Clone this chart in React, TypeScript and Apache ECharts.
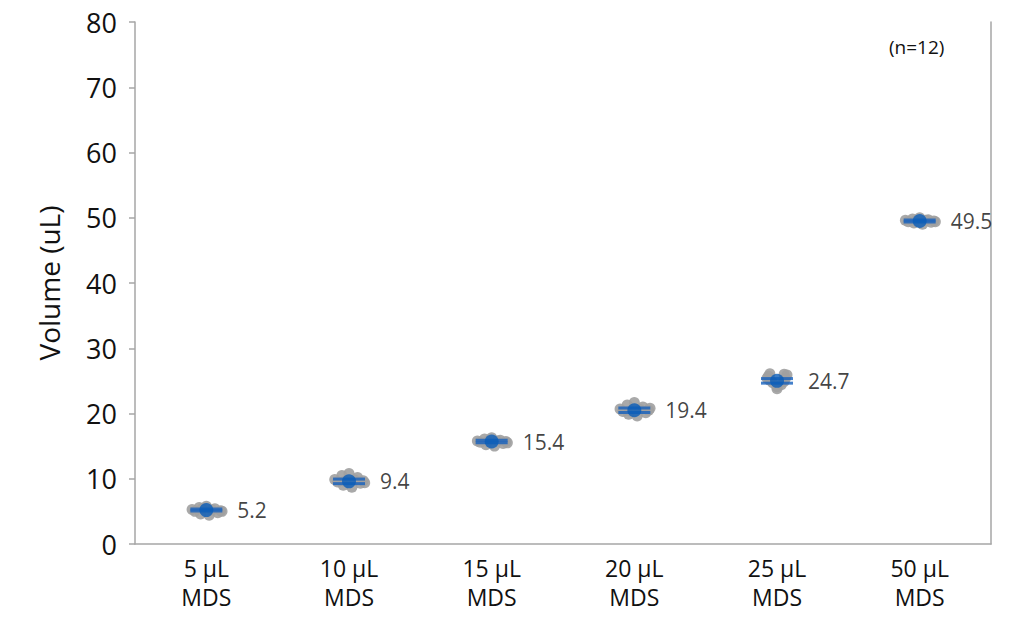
import React, { useEffect, useRef } from "react";
import * as echarts from "echarts";

const categories = ["5 µL\nMDS", "10 µL\nMDS", "15 µL\nMDS", "20 µL\nMDS", "25 µL\nMDS", "50 µL\nMDS"];
const yTicks = [0, 10, 20, 30, 40, 50, 60, 70, 80];
const means = [5.2, 9.6, 15.7, 20.5, 25.0, 49.5];
const meanLabels = ["5.2", "9.4", "15.4", "19.4", "24.7", "49.5"];
const sds = [0.15, 0.35, 0.2, 0.35, 0.35, 0.15];

// individual measurements (n=12 per group) and their horizontal jitter
const pts5 = [5.8, 5.6, 5.4, 5.3, 5.1, 5.0, 4.8, 4.6, 4.4, 5.2, 5.4, 5.0];
const pts10 = [10.8, 10.5, 10.2, 9.9, 9.7, 9.5, 9.3, 9.0, 8.7, 9.8, 9.6, 9.4];
const pts15 = [16.3, 16.1, 15.9, 15.8, 15.7, 15.6, 15.4, 15.2, 15.0, 15.8, 15.7, 15.5];
const pts20 = [21.7, 21.3, 21.0, 20.7, 20.5, 20.3, 20.1, 19.9, 19.6, 20.6, 20.4, 20.8];
const pts25 = [26.1, 26.0, 25.7, 25.4, 25.1, 24.9, 24.7, 24.4, 24.1, 23.8, 25.4, 25.9];
const pts50 = [50.0, 49.8, 49.7, 49.6, 49.5, 49.4, 49.3, 49.2, 49.0, 49.6, 49.5, 49.4];
const jitter = [0.0, -0.05, 0.06, -0.1, 0.1, -0.08, 0.08, -0.04, 0.02, 0.04, -0.03, 0.11];
const jitter25 = [-0.05, 0.05, -0.06, 0.06, -0.05, 0.05, -0.03, 0.03, 0.0, 0.0, -0.07, 0.07];
const groups = [pts5, pts10, pts15, pts20, pts25, pts50];

const FONT = "Open Sans";

export default function App() {
  const ref = useRef<HTMLDivElement>(null);
  useEffect(() => {
    if (!ref.current) return;
    const chart = echarts.init(ref.current, undefined, { renderer: "svg" });

    const pointData: number[][] = [];
    groups.forEach((g, gi) => {
      g.forEach((v, i) => {
        const j = gi === 4 ? jitter25[i] : jitter[i];
        pointData.push([gi + j, v]);
      });
    });
    const meanData = means.map((m, i) => [i, m]);
    const barData: number[][] = [];
    means.forEach((m, i) => {
      barData.push([i, m + sds[i]]);
      barData.push([i, m - sds[i]]);
    });

    chart.setOption({
      animation: false,
      backgroundColor: "#ffffff",
      grid: { left: 135, right: 33, top: 22, bottom: 79 },
      xAxis: [
        {
          type: "category",
          data: categories,
          boundaryGap: true,
          axisLine: { lineStyle: { color: "#a6a6a6", width: 1.5 } },
          axisTick: { alignWithLabel: true, length: 6, lineStyle: { color: "#a6a6a6", width: 1.5 } },
          axisLabel: { fontFamily: FONT, fontSize: 23, color: "#111", lineHeight: 29, margin: 9 },
          splitLine: { show: false },
        },
        { type: "value", min: -0.5, max: 5.5, show: false },
      ],
      yAxis: [
        {
          type: "value",
          min: 0,
          max: 80,
          interval: 10,
          name: "Volume (uL)",
          nameLocation: "middle",
          nameGap: 72,
          nameTextStyle: { fontFamily: FONT, fontSize: 28, color: "#111" },
          axisLine: { show: true, onZero: false, lineStyle: { color: "#a6a6a6", width: 1.5 } },
          axisTick: { show: true, length: 6, lineStyle: { color: "#a6a6a6", width: 1.5 } },
          axisLabel: {
            fontFamily: FONT,
            fontSize: 27,
            color: "#111",
            margin: 18,
            formatter: (v: number) => (yTicks.includes(v) ? String(v) : ""),
          },
          splitLine: { show: false },
        },
        {
          type: "value",
          min: 0,
          max: 80,
          position: "right",
          axisLine: { show: true, onZero: false, lineStyle: { color: "#a6a6a6", width: 1.5 } },
          axisTick: { show: false },
          axisLabel: { show: false },
          splitLine: { show: false },
        },
      ],
      series: [
        {
          type: "scatter",
          xAxisIndex: 1,
          data: pointData,
          symbol: "circle",
          symbolSize: 11,
          itemStyle: { color: "#a0a0a0", opacity: 0.9 },
          silent: true,
          z: 2,
        },
        {
          type: "scatter",
          xAxisIndex: 1,
          data: barData,
          symbol: "rect",
          symbolSize: [32, 3],
          itemStyle: { color: "#1560bd" },
          silent: true,
          z: 3,
        },
        {
          type: "scatter",
          xAxisIndex: 1,
          data: meanData,
          symbol: "circle",
          symbolSize: 14,
          itemStyle: { color: "#0a5cb8" },
          label: {
            show: true,
            position: "right",
            distance: 24,
            fontFamily: FONT,
            fontSize: 21,
            color: "#111",
            formatter: (p: any) => meanLabels[p.dataIndex],
          },
          silent: true,
          z: 4,
        },
      ],
      graphic: [
        {
          type: "text",
          left: 889,
          top: 37,
          style: { text: "(n=12)", fontFamily: FONT, fontSize: 19, fill: "#111" },
        },
      ],
    });
    return () => chart.dispose();
  }, []);
  return (
    <div
      ref={ref}
      style={{ position: "absolute", left: 0, top: 0, width: 1024, height: 623 }}
    />
  );
}
